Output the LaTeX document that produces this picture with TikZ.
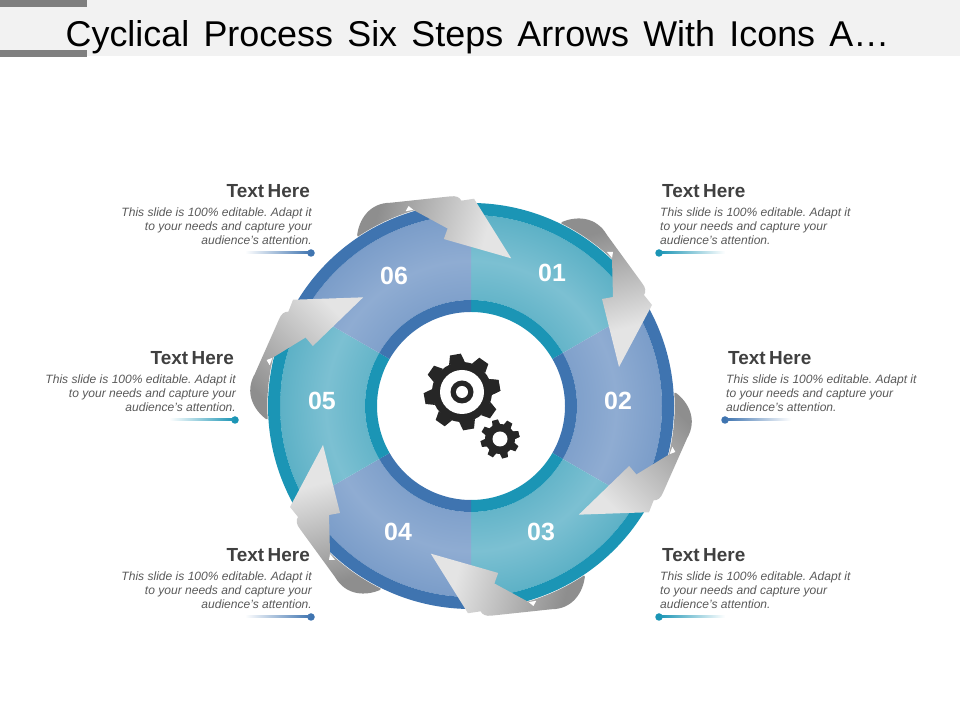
\documentclass[tikz,border=0pt]{standalone}
\usepackage{fontspec}
\setmainfont{Liberation Sans}
\usetikzlibrary{calc}
\definecolor{ringTeal}{HTML}{1B95B5}
\definecolor{ringBlue}{HTML}{3F74B0}
\definecolor{tealEdge}{HTML}{5DB1C6}
\definecolor{tealMid}{HTML}{7CC0D2}
\definecolor{blueEdge}{HTML}{7B9DC9}
\definecolor{blueMid}{HTML}{8FACD2}
\definecolor{arrowDark}{HTML}{8E8E8E}
\definecolor{arrowLight}{HTML}{E4E4E4}
\definecolor{inkGrey}{HTML}{404040}
\definecolor{noteGrey}{HTML}{595959}
\definecolor{gearInk}{HTML}{262626}
\definecolor{barGrey}{HTML}{7F7F7F}
\definecolor{titleBack}{HTML}{F2F2F2}
\pgfdeclareradialshading{bandTeal}{\pgfpoint{0bp}{0bp}}{color(0bp)=(tealEdge); color(12.3bp)=(tealEdge); color(19bp)=(tealMid); color(25bp)=(tealEdge); color(50bp)=(tealEdge)}
\pgfdeclareradialshading{bandBlue}{\pgfpoint{0bp}{0bp}}{color(0bp)=(blueEdge); color(12.3bp)=(blueEdge); color(19bp)=(blueMid); color(25bp)=(blueEdge); color(50bp)=(blueEdge)}
\pgfdeclareverticalshading{arrowGrey}{100bp}{color(0bp)=(arrowLight); color(37.5bp)=(arrowLight); color(62.5bp)=(arrowDark); color(100bp)=(arrowDark)}
\tikzset{
  sectorlabel/.style={text=white,font=\fontsize{25}{25}\selectfont\bfseries,inner sep=0pt},
  headtext/.style={text=inkGrey,font=\fontsize{19}{20}\selectfont\bfseries,inner sep=0pt},
  notetext/.style={text=noteGrey,font=\fontsize{12.1}{14}\selectfont\itshape\frenchspacing,inner sep=0pt},
  leaderdot/.style={circle,inner sep=0pt,minimum size=7.5bp}
}
% one sector of the ring: start angle, end angle, ring colour, band shading
\newcommand{\ringSector}[4]{
  \begin{scope}
    \clip (#1:106) arc[start angle=#1,end angle=#2,radius=106] -- (#2:191) arc[start angle=#2,end angle=#1,radius=191] -- cycle;
    \shade[shading=#4] (0,0) circle (191);
  \end{scope}
  \fill[#3] (#1:191) arc[start angle=#1,end angle=#2,radius=191] -- (#2:203) arc[start angle=#2,end angle=#1,radius=203] -- cycle;
  \fill[#3] (#1:94) arc[start angle=#1,end angle=#2,radius=94] -- (#2:106) arc[start angle=#2,end angle=#1,radius=106] -- cycle;
}
% one curved arrow, turned by #1 about the ring centre
\newcommand{\stepArrow}[1]{
  \begin{scope}[rotate=#1]
    \begin{scope}
      \clip (91,184) .. controls (105,190) and (125,190) .. (136,171) -- (171,123) .. controls (175,118) and (175,114) .. (173,111)
        -- (181,101) -- (148,39) -- (131,107) -- (142,109) -- (141,147) arc[start angle=46.2,end angle=63.7,radius=203.7] -- cycle;
      \shade[shading=arrowGrey,shading angle=15+#1] (141,126) circle (100);
    \end{scope}
    \fill[white] (136,154) -- (142,154) -- (141,148) -- cycle;
  \end{scope}
}
% a note with the text on the left of its dot: name, x, y, colour
\newcommand{\noteLeft}[4]{
  \node[headtext,anchor=east] (head#1) at (#2-2,#3) {\spaceskip=3.5bp\relax Text Here};
  \node[notetext,anchor=north east,align=right] (body#1) at (#2,#3-17) {This slide is 100\% editable. Adapt it\\to your needs and capture your\\audience’s attention.};
  \node[leaderdot,fill=#4] (dot#1) at (#2-1,#3-62) {};
  \coordinate (end#1) at ([xshift=-66bp]dot#1.center);
  \shade[left color=white,right color=#4] ([yshift=-1bp]end#1) rectangle ([yshift=1bp]dot#1.center);
}
% the same with the text on the right of its dot
\newcommand{\noteRight}[4]{
  \node[headtext,anchor=west] (head#1) at (#2+2,#3) {\spaceskip=3.5bp\relax Text Here};
  \node[notetext,anchor=north west,align=left] (body#1) at (#2,#3-17) {This slide is 100\% editable. Adapt it\\to your needs and capture your\\audience’s attention.};
  \node[leaderdot,fill=#4] (dot#1) at (#2-1,#3-62) {};
  \coordinate (end#1) at ([xshift=66bp]dot#1.center);
  \shade[left color=#4,right color=white] ([yshift=-1bp]dot#1.center) rectangle ([yshift=1bp]end#1);
}
\begin{document}
\begin{tikzpicture}[x=1bp,y=1bp]
\useasboundingbox (0,0) rectangle (960,720);
% title bar
\fill[titleBack] (0,664) rectangle (960,720);
\fill[barGrey] (0,713) rectangle (87,720);
\fill[barGrey] (0,663) rectangle (87,670);
\node[text=black,font=\fontsize{36}{36}\selectfont,inner sep=0pt] (title) at (477.5,683) {\spaceskip=14.3bp\relax Cyclical Process Six Steps Arrows With Icons A…};
% ring
\begin{scope}[shift={(471,314)}]
\ringSector{90}{30}{ringTeal}{bandTeal}
\ringSector{30}{-30}{ringBlue}{bandBlue}
\ringSector{-30}{-90}{ringTeal}{bandTeal}
\ringSector{-90}{-150}{ringBlue}{bandBlue}
\ringSector{210}{150}{ringTeal}{bandTeal}
\ringSector{150}{90}{ringBlue}{bandBlue}
\stepArrow{0}
\stepArrow{-60}
\stepArrow{-120}
\stepArrow{-180}
\stepArrow{-240}
\stepArrow{-300}
% gears
\fill[gearInk] (-9,14) circle (30);
\foreach \a in {10,55,...,370}
  \fill[gearInk,rotate around={\a:(-9,14)}] (20,6) -- (29,8.5) -- (29,19.5) -- (20,22) -- cycle;
\fill[white] (-9,14) circle (22);
\fill[gearInk] (-9,14) circle (11.5);
\fill[white] (-9,14) circle (6);
\fill[gearInk] (29,-33) circle (15);
\foreach \a in {15,60,...,375}
  \fill[gearInk,rotate around={\a:(29,-33)}] (43,-37) -- (48.5,-36) -- (48.5,-30) -- (43,-29) -- cycle;
\fill[white] (29,-33) circle (7.5);
\end{scope}
\node[sectorlabel] (n1) at (552,447) {01};
\node[sectorlabel] (n2) at (618,319) {02};
\node[sectorlabel] (n3) at (541,188) {03};
\node[sectorlabel] (n4) at (398,188) {04};
\node[sectorlabel] (n5) at (322,319) {05};
\node[sectorlabel] (n6) at (394,444) {06};
% notes
\noteLeft{TL}{312}{529}{ringBlue}
\noteLeft{ML}{236}{362}{ringTeal}
\noteLeft{BL}{312}{165}{ringBlue}
\noteRight{TR}{660}{529}{ringTeal}
\noteRight{MR}{726}{362}{ringBlue}
\noteRight{BR}{660}{165}{ringTeal}
\end{tikzpicture}
\end{document}
